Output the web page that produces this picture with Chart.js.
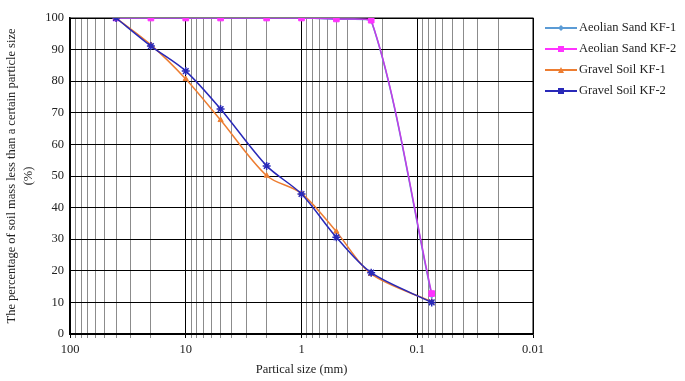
<!DOCTYPE html>
<html>
<head>
<meta charset="utf-8">
<script src="https://cdn.jsdelivr.net/npm/chart.js@4"></script>
<style>
  html, body { margin: 0; padding: 0; background: #fff; }
  #wrap { position: relative; width: 685px; height: 381px; }
  #legend { position: absolute; left: 545px; top: 17px; font: 12.5px "Liberation Serif", serif; color: #222; }
  .item { display: flex; align-items: center; height: 21px; }
  .sw { position: relative; width: 32px; height: 10px; margin-right: 2px; }
  .sw .ln { position: absolute; left: 0; right: 0; top: 4px; height: 2px; }
  .sw .mk { position: absolute; left: 13px; top: 2px; width: 6px; height: 6px; }
</style>
</head>
<body>
<div id="wrap">
  <canvas id="grading-chart" width="685" height="381"></canvas>
  <div id="legend"></div>
</div>
<script>
var sieveSizes = [40, 20, 10, 5, 2, 1, 0.5, 0.25, 0.075];
var aeolianKF1 = [100, 100, 100, 100, 100, 100, 99.6, 99.1, 12.2];
var aeolianKF2 = [100, 100, 100, 100, 100, 100, 99.7, 99.3, 12.8];
var gravelKF1 = [100, 91.5, 80.7, 67.7, 50.1, 44.5, 32.4, 19.0, 10.2];
var gravelKF2 = [100, 91.1, 83.2, 71.2, 53.2, 44.3, 30.6, 19.4, 10.0];
var xTickLabels = [100, 10, 1, 0.1, 0.01];
var seriesNames = ['Aeolian Sand KF-1', 'Aeolian Sand KF-2', 'Gravel Soil KF-1', 'Gravel Soil KF-2'];

function pts(ys) {
  return sieveSizes.map(function (x, i) { return { x: x, y: ys[i] }; });
}

// grid positions 1..9 x 10^n between 0.01 and 100
var gridValues = [];
for (var e = -2; e < 2; e++) {
  for (var s = 1; s < 10; s++) gridValues.push(+(s * Math.pow(10, e)).toPrecision(3));
}
gridValues.push(100);

var ctx = document.getElementById('grading-chart').getContext('2d');
var chart = new Chart(ctx, {
  type: 'scatter',
  data: {
    datasets: [{
      label: seriesNames[0],
      data: pts(aeolianKF1),
      borderColor: '#5b9bd5',
      backgroundColor: '#5b9bd5',
      pointStyle: 'rectRot',
      pointRadius: 2.5,
      order: 3
    }, {
      label: seriesNames[1],
      data: pts(aeolianKF2),
      borderColor: '#c23ce6',
      backgroundColor: '#ff33ff',
      pointBorderColor: '#ff33ff',
      pointStyle: 'rect',
      pointRadius: 4,
      order: 2
    }, {
      label: seriesNames[2],
      data: pts(gravelKF1),
      borderColor: '#ed7d31',
      backgroundColor: '#ed7d31',
      pointStyle: 'triangle',
      pointRadius: 3,
      order: 1
    }, {
      label: seriesNames[3],
      data: pts(gravelKF2),
      borderColor: '#2929b8',
      backgroundColor: '#2929b8',
      pointStyle: 'star',
      pointRadius: 4,
      pointBorderWidth: 1.5,
      order: 0
    }]
  },
  options: {
    responsive: false,
    animation: false,
    showLine: true,
    layout: { padding: { left: 0, right: 152, top: 18, bottom: 0 } },
    elements: {
      line: { borderWidth: 1.5, tension: 0.3, fill: false },
      point: { borderWidth: 1 }
    },
    plugins: {
      legend: { display: false },
      tooltip: { enabled: false }
    },
    scales: {
      x: {
        type: 'logarithmic',
        reverse: true,
        min: 0.01,
        max: 100,
        afterBuildTicks: function (scale) {
          scale.ticks = gridValues.map(function (v) { return { value: v }; });
        },
        afterFit: function (scale) { scale.height = 47; },
        border: { color: '#000', width: 1.5 },
        grid: {
          drawTicks: true,
          tickLength: 4,
          color: function (c) {
            var v = c.tick && c.tick.value;
            return xTickLabels.indexOf(v) >= 0 ? '#000' : '#8c8c8c';
          },
          lineWidth: 1
        },
        ticks: {
          autoSkip: false,
          maxRotation: 0,
          color: '#222',
          padding: 4,
          font: { family: '"Liberation Serif", serif', size: 12.5 },
          callback: function (v) {
            return xTickLabels.indexOf(v) >= 0 ? String(v) : '';
          }
        },
        title: {
          display: true,
          text: 'Partical size (mm)',
          color: '#222',
          padding: { top: 2 },
          font: { family: '"Liberation Serif", serif', size: 12.5 }
        }
      },
      y: {
        min: 0,
        max: 100,
        afterFit: function (scale) { scale.width = 70; },
        border: { color: '#000', width: 1.5 },
        grid: { color: '#000', lineWidth: 1, drawTicks: false },
        ticks: {
          stepSize: 10,
          color: '#222',
          padding: 6,
          font: { family: '"Liberation Serif", serif', size: 12.5 }
        },
        title: {
          display: true,
          text: ['The percentage of soil mass less than a certain particle size', '(%)'],
          color: '#222',
          padding: { bottom: 2 },
          font: { family: '"Liberation Serif", serif', size: 12.5, lineHeight: 1.3 }
        }
      }
    }
  },
  plugins: [{
    id: 'frame',
    beforeDatasetsDraw: function (c) {
      var a = c.chartArea, g = c.ctx;
      g.save();
      g.strokeStyle = '#000';
      g.lineWidth = 1;
      g.strokeRect(a.left, a.top, a.right - a.left, a.bottom - a.top);
      g.restore();
    }
  }]
});

// legend with line + marker, built from the datasets
var legend = document.getElementById('legend');
chart.data.datasets.forEach(function (ds) {
  var item = document.createElement('div');
  item.className = 'item';
  var sw = document.createElement('div');
  sw.className = 'sw';
  var ln = document.createElement('div');
  ln.className = 'ln';
  ln.style.background = ds.pointStyle === 'rect' ? '#ff33ff' : ds.borderColor;
  var mk = document.createElement('div');
  mk.className = 'mk';
  mk.style.background = ds.backgroundColor;
  if (ds.pointStyle === 'rectRot') { mk.style.transform = 'rotate(45deg) scale(0.7)'; }
  if (ds.pointStyle === 'triangle') {
    mk.style.background = 'none';
    mk.style.width = '0'; mk.style.height = '0';
    mk.style.borderLeft = '3px solid transparent';
    mk.style.borderRight = '3px solid transparent';
    mk.style.borderBottom = '6px solid ' + ds.backgroundColor;
  }
  sw.appendChild(ln);
  sw.appendChild(mk);
  item.appendChild(sw);
  var tx = document.createElement('span');
  tx.textContent = ds.label;
  item.appendChild(tx);
  legend.appendChild(item);
});
</script>
</body>
</html>
